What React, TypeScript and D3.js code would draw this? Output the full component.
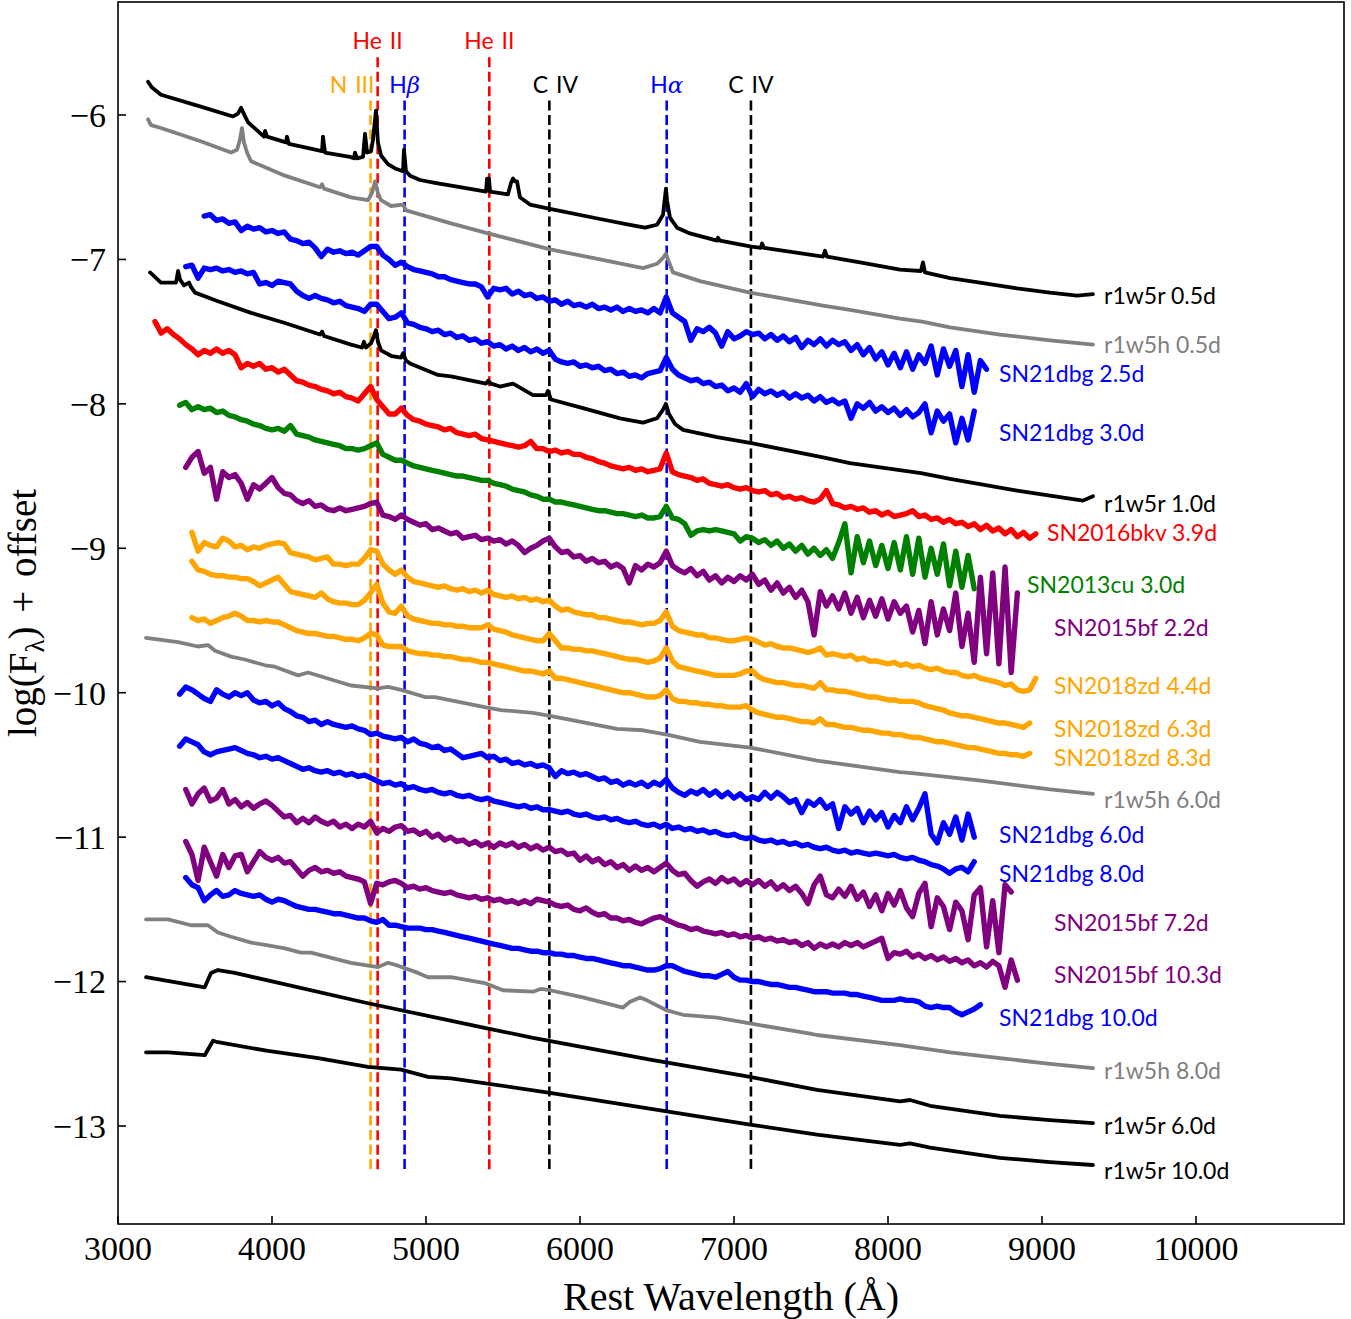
import * as d3 from 'd3'

const W = 1351
const H = 1319
const STEP = 40 // observed spectra are listed every 40 Å from their start wavelength

// ---- observed spectra (log flux + offset) ----
const sn21dbg25Start = 3560
const sn21dbg25 = [
  -6.70, -6.69, -6.73, -6.72, -6.75, -6.74, -6.80, -6.77, -6.79, -6.78,
  -6.81, -6.80, -6.82, -6.81, -6.86, -6.87, -6.89, -6.88, -6.92, -6.98,
  -6.93, -6.95, -6.94, -6.96, -6.95, -6.97, -6.94, -6.91, -6.91, -6.97,
  -7.00, -7.04, -7.02, -7.05, -7.07, -7.08, -7.09, -7.10, -7.12, -7.12,
  -7.14, -7.15, -7.16, -7.17, -7.17, -7.19, -7.26, -7.20, -7.21, -7.20,
  -7.24, -7.22, -7.25, -7.24, -7.27, -7.26, -7.29, -7.28, -7.31, -7.29,
  -7.32, -7.31, -7.33, -7.31, -7.34, -7.33, -7.35, -7.33, -7.36, -7.34,
  -7.36, -7.35, -7.37, -7.34, -7.37, -7.26, -7.37, -7.40, -7.43, -7.56,
  -7.48, -7.50, -7.47, -7.51, -7.60, -7.50, -7.55, -7.53, -7.50, -7.52,
  -7.51, -7.55, -7.52, -7.56, -7.53, -7.57, -7.54, -7.61, -7.56, -7.59,
  -7.55, -7.60, -7.56, -7.59, -7.57, -7.63, -7.59, -7.66, -7.61, -7.69,
  -7.64, -7.73, -7.65, -7.75, -7.64, -7.76, -7.66, -7.72, -7.60, -7.80,
  -7.62, -7.74, -7.63, -7.88, -7.66, -7.92, -7.70, -7.76,
]

const sn21dbg30Start = 3440
const sn21dbg30 = [
  -7.05, -7.04, -7.13, -7.06, -7.07, -7.06, -7.08, -7.07, -7.09, -7.08,
  -7.10, -7.09, -7.17, -7.16, -7.18, -7.15, -7.16, -7.17, -7.22, -7.25,
  -7.27, -7.25, -7.27, -7.28, -7.30, -7.29, -7.32, -7.33, -7.34, -7.36,
  -7.31, -7.31, -7.36, -7.41, -7.40, -7.37, -7.44, -7.45, -7.47, -7.48,
  -7.50, -7.49, -7.52, -7.51, -7.54, -7.53, -7.56, -7.55, -7.58, -7.57,
  -7.60, -7.59, -7.62, -7.60, -7.63, -7.61, -7.64, -7.62, -7.65, -7.63,
  -7.69, -7.71, -7.72, -7.71, -7.74, -7.73, -7.75, -7.74, -7.77, -7.76,
  -7.79, -7.78, -7.81, -7.80, -7.82, -7.79, -7.78, -7.77, -7.68, -7.76,
  -7.80, -7.82, -7.84, -7.83, -7.86, -7.85, -7.88, -7.87, -7.91, -7.89,
  -7.92, -7.86, -7.95, -7.90, -7.93, -7.91, -7.94, -7.92, -7.96, -7.93,
  -7.96, -7.94, -7.98, -7.95, -7.99, -7.97, -8.00, -7.98, -8.10, -8.00,
  -8.03, -7.99, -8.05, -8.02, -8.06, -8.03, -8.08, -8.04, -8.09, -8.06,
  -8.00, -8.20, -8.05, -8.12, -8.07, -8.27, -8.10, -8.25, -8.05,
]

const sn2016bkvStart = 3240
const sn2016bkv = [
  -7.43, -7.51, -7.48, -7.52, -7.55, -7.59, -7.62, -7.66, -7.63, -7.65,
  -7.62, -7.65, -7.63, -7.66, -7.75, -7.72, -7.74, -7.72, -7.76, -7.75,
  -7.78, -7.76, -7.80, -7.84, -7.85, -7.87, -7.88, -7.90, -7.91, -7.93,
  -7.92, -7.95, -7.96, -7.98, -7.93, -7.88, -7.97, -8.02, -8.07, -8.07,
  -8.03, -8.08, -8.11, -8.12, -8.14, -8.15, -8.16, -8.18, -8.17, -8.20,
  -8.21, -8.22, -8.21, -8.24, -8.25, -8.26, -8.27, -8.28, -8.29, -8.30,
  -8.29, -8.26, -8.31, -8.31, -8.33, -8.32, -8.34, -8.33, -8.35, -8.35,
  -8.37, -8.38, -8.40, -8.41, -8.43, -8.44, -8.45, -8.44, -8.46, -8.45,
  -8.47, -8.46, -8.45, -8.34, -8.47, -8.49, -8.50, -8.51, -8.53, -8.52,
  -8.55, -8.56, -8.57, -8.56, -8.58, -8.59, -8.58, -8.60, -8.61, -8.60,
  -8.63, -8.62, -8.65, -8.64, -8.66, -8.65, -8.67, -8.68, -8.66, -8.60,
  -8.69, -8.70, -8.72, -8.71, -8.73, -8.72, -8.75, -8.74, -8.77, -8.75,
  -8.78, -8.77, -8.76, -8.74, -8.78, -8.77, -8.80, -8.79, -8.82, -8.80,
  -8.83, -8.82, -8.85, -8.83, -8.87, -8.84, -8.88, -8.86, -8.90, -8.87,
  -8.92, -8.89, -8.93, -8.90,
]

const sn2013cuStart = 3400
const sn2013cu = [
  -8.01, -7.99, -8.04, -8.02, -8.04, -8.03, -8.06, -8.05, -8.08, -8.09,
  -8.11, -8.12, -8.14, -8.15, -8.17, -8.18, -8.17, -8.19, -8.15, -8.21,
  -8.22, -8.23, -8.25, -8.26, -8.27, -8.28, -8.29, -8.31, -8.31, -8.32,
  -8.31, -8.29, -8.27, -8.35, -8.37, -8.39, -8.39, -8.41, -8.43, -8.44,
  -8.45, -8.46, -8.47, -8.48, -8.49, -8.50, -8.50, -8.51, -8.52, -8.53,
  -8.53, -8.55, -8.56, -8.57, -8.59, -8.60, -8.61, -8.63, -8.64, -8.66,
  -8.66, -8.68, -8.68, -8.69, -8.70, -8.71, -8.72, -8.73, -8.74, -8.74,
  -8.75, -8.76, -8.76, -8.77, -8.78, -8.77, -8.79, -8.79, -8.78, -8.71,
  -8.79, -8.80, -8.83, -8.91, -8.88, -8.87, -8.88, -8.87, -8.88, -8.89,
  -8.90, -8.95, -8.92, -8.93, -8.96, -8.94, -8.98, -8.95, -9.00, -8.97,
  -9.02, -8.98, -9.04, -9.00, -9.05, -9.01, -9.07, -8.96, -8.83, -9.17,
  -8.92, -9.10, -8.95, -9.12, -8.98, -9.14, -8.96, -9.15, -8.92, -9.18,
  -8.93, -9.20, -9.00, -9.18, -8.97, -9.26, -9.02, -9.27, -9.05, -9.28,
]

const sn2015bf22Start = 3440
const sn2015bf22 = [
  -8.44, -8.37, -8.33, -8.48, -8.44, -8.66, -8.47, -8.51, -8.49, -8.55,
  -8.66, -8.56, -8.59, -8.55, -8.51, -8.58, -8.62, -8.63, -8.67, -8.69,
  -8.67, -8.71, -8.70, -8.73, -8.74, -8.72, -8.74, -8.73, -8.72, -8.71,
  -8.69, -8.68, -8.77, -8.78, -8.80, -8.77, -8.80, -8.82, -8.84, -8.83,
  -8.87, -8.86, -8.88, -8.90, -8.89, -8.93, -8.92, -8.91, -8.94, -8.93,
  -8.95, -8.94, -8.97, -8.95, -8.98, -9.03, -9.00, -8.98, -8.95, -8.93,
  -8.99, -9.03, -9.02, -9.06, -9.05, -9.09, -9.07, -9.10, -9.09, -9.13,
  -9.11, -9.14, -9.24, -9.12, -9.15, -9.11, -9.13, -9.10, -9.02, -9.12,
  -9.15, -9.17, -9.14, -9.19, -9.16, -9.22, -9.19, -9.24, -9.20, -9.23,
  -9.19, -9.22, -9.18, -9.25, -9.22, -9.29, -9.24, -9.31, -9.27, -9.34,
  -9.29, -9.37, -9.60, -9.30, -9.40, -9.33, -9.42, -9.31, -9.45, -9.34,
  -9.48, -9.36, -9.47, -9.35, -9.49, -9.37, -9.45, -9.40, -9.58, -9.43,
  -9.66, -9.37, -9.60, -9.42, -9.57, -9.31, -9.68, -9.45, -9.79, -9.20,
  -9.73, -9.17, -9.80, -9.13, -9.86, -9.31,
]

const sn2018zd44Start = 3480
const sn2018zd44 = [
  -8.89, -9.02, -8.96, -8.98, -8.99, -8.93, -8.95, -8.99, -8.98, -9.01,
  -8.99, -9.00, -8.98, -8.97, -8.96, -8.97, -9.03, -9.04, -9.05, -9.06,
  -9.08, -9.07, -9.06, -9.11, -9.11, -9.12, -9.11, -9.11, -9.07, -9.01,
  -9.02, -9.11, -9.15, -9.18, -9.15, -9.20, -9.23, -9.24, -9.25, -9.26,
  -9.27, -9.26, -9.28, -9.29, -9.28, -9.30, -9.29, -9.31, -9.29, -9.32,
  -9.33, -9.34, -9.33, -9.35, -9.34, -9.36, -9.35, -9.37, -9.36, -9.40,
  -9.43, -9.42, -9.44, -9.45, -9.46, -9.46, -9.48, -9.48, -9.49, -9.50,
  -9.51, -9.51, -9.52, -9.53, -9.52, -9.52, -9.50, -9.44, -9.54, -9.57,
  -9.58, -9.59, -9.60, -9.60, -9.62, -9.62, -9.63, -9.64, -9.64, -9.63,
  -9.62, -9.63, -9.65, -9.67, -9.66, -9.68, -9.69, -9.69, -9.70, -9.71,
  -9.72, -9.71, -9.69, -9.74, -9.73, -9.74, -9.75, -9.74, -9.77, -9.76,
  -9.78, -9.78, -9.79, -9.80, -9.79, -9.81, -9.80, -9.82, -9.81, -9.83,
  -9.84, -9.83, -9.85, -9.86, -9.86, -9.88, -9.89, -9.88, -9.90, -9.91,
  -9.92, -9.93, -9.95, -9.94, -9.98, -9.99, -9.98, -9.90,
]

const sn2018zd63Start = 3480
const sn2018zd63 = [
  -9.09, -9.15, -9.16, -9.18, -9.19, -9.19, -9.20, -9.20, -9.21, -9.21,
  -9.23, -9.26, -9.24, -9.22, -9.20, -9.25, -9.30, -9.31, -9.32, -9.33,
  -9.34, -9.31, -9.35, -9.37, -9.38, -9.38, -9.39, -9.39, -9.36, -9.31,
  -9.25, -9.38, -9.44, -9.45, -9.40, -9.47, -9.49, -9.50, -9.51, -9.52,
  -9.52, -9.53, -9.53, -9.54, -9.54, -9.55, -9.55, -9.55, -9.53, -9.56,
  -9.57, -9.58, -9.60, -9.61, -9.62, -9.63, -9.64, -9.64, -9.59, -9.64,
  -9.69, -9.69, -9.70, -9.70, -9.71, -9.71, -9.72, -9.73, -9.74, -9.75,
  -9.76, -9.77, -9.77, -9.78, -9.79, -9.78, -9.76, -9.69, -9.78, -9.82,
  -9.83, -9.84, -9.85, -9.86, -9.87, -9.88, -9.88, -9.88, -9.88, -9.87,
  -9.85, -9.85, -9.89, -9.91, -9.92, -9.93, -9.93, -9.94, -9.95, -9.95,
  -9.96, -9.97, -9.93, -9.98, -9.98, -9.99, -9.99, -10.00, -10.01, -10.02,
  -10.03, -10.03, -10.04, -10.05, -10.05, -10.06, -10.06, -10.06, -10.07, -10.09,
  -10.10, -10.11, -10.12, -10.14, -10.15, -10.16, -10.16, -10.17, -10.18, -10.19,
  -10.20, -10.21, -10.21, -10.22, -10.23, -10.24, -10.21,
]

const sn2018zd83Start = 3480
const sn2018zd83 = [
  -9.48, -9.50, -9.49, -9.52, -9.50, -9.48, -9.47, -9.45, -9.47, -9.50,
  -9.50, -9.51, -9.50, -9.51, -9.51, -9.53, -9.55, -9.57, -9.58, -9.59,
  -9.59, -9.60, -9.61, -9.61, -9.62, -9.63, -9.63, -9.64, -9.62, -9.59,
  -9.60, -9.67, -9.68, -9.68, -9.68, -9.71, -9.72, -9.73, -9.73, -9.74,
  -9.74, -9.75, -9.75, -9.76, -9.77, -9.77, -9.78, -9.79, -9.79, -9.80,
  -9.81, -9.82, -9.83, -9.84, -9.85, -9.85, -9.86, -9.87, -9.85, -9.90,
  -9.90, -9.91, -9.92, -9.93, -9.94, -9.95, -9.96, -9.97, -9.98, -9.99,
  -10.00, -10.00, -10.01, -10.02, -10.03, -10.03, -10.02, -9.98, -10.04, -10.06,
  -10.06, -10.07, -10.07, -10.08, -10.08, -10.09, -10.09, -10.10, -10.10, -10.10,
  -10.09, -10.12, -10.14, -10.15, -10.16, -10.17, -10.17, -10.18, -10.19, -10.20,
  -10.20, -10.21, -10.18, -10.22, -10.22, -10.23, -10.24, -10.24, -10.25, -10.26,
  -10.26, -10.27, -10.28, -10.28, -10.29, -10.29, -10.30, -10.31, -10.31, -10.32,
  -10.33, -10.34, -10.34, -10.35, -10.36, -10.37, -10.38, -10.38, -10.39, -10.40,
  -10.41, -10.42, -10.42, -10.43, -10.43, -10.44, -10.42,
]

const sn21dbg60Start = 3400
const sn21dbg60 = [
  -10.01, -9.96, -9.98, -10.01, -10.04, -10.06, -9.98, -10.01, -10.03, -10.00,
  -10.02, -10.00, -10.05, -10.07, -10.06, -10.09, -10.07, -10.11, -10.13, -10.16,
  -10.17, -10.20, -10.19, -10.22, -10.20, -10.22, -10.23, -10.24, -10.23, -10.25,
  -10.26, -10.29, -10.28, -10.30, -10.31, -10.32, -10.31, -10.34, -10.32, -10.35,
  -10.36, -10.38, -10.37, -10.40, -10.39, -10.42, -10.45, -10.44, -10.43, -10.42,
  -10.45, -10.44, -10.47, -10.46, -10.49, -10.48, -10.50, -10.49, -10.51, -10.50,
  -10.52, -10.58, -10.54, -10.56, -10.55, -10.57, -10.56, -10.58, -10.60, -10.59,
  -10.62, -10.61, -10.64, -10.62, -10.64, -10.62, -10.65, -10.62, -10.64, -10.60,
  -10.66, -10.69, -10.71, -10.68, -10.70, -10.67, -10.71, -10.68, -10.72, -10.69,
  -10.73, -10.70, -10.74, -10.72, -10.74, -10.69, -10.73, -10.69, -10.72, -10.76,
  -10.74, -10.83, -10.75, -10.78, -10.74, -10.80, -10.77, -10.94, -10.79, -10.84,
  -10.80, -10.90, -10.82, -10.88, -10.83, -10.93, -10.85, -10.90, -10.79, -10.88,
  -10.80, -10.70, -10.98, -11.04, -10.90, -10.98, -10.86, -11.02, -10.84, -11.00,
]

const sn21dbg80Start = 3400
const sn21dbg80 = [
  -10.37, -10.32, -10.34, -10.36, -10.41, -10.43, -10.41, -10.40, -10.39, -10.38,
  -10.40, -10.42, -10.43, -10.45, -10.44, -10.46, -10.45, -10.47, -10.49, -10.51,
  -10.53, -10.52, -10.54, -10.55, -10.54, -10.56, -10.55, -10.57, -10.56, -10.58,
  -10.57, -10.59, -10.61, -10.63, -10.62, -10.64, -10.63, -10.66, -10.65, -10.67,
  -10.68, -10.67, -10.69, -10.70, -10.69, -10.71, -10.72, -10.71, -10.73, -10.74,
  -10.73, -10.75, -10.76, -10.77, -10.78, -10.79, -10.78, -10.80, -10.79, -10.81,
  -10.81, -10.82, -10.83, -10.82, -10.84, -10.85, -10.84, -10.86, -10.87, -10.86,
  -10.88, -10.87, -10.89, -10.90, -10.89, -10.91, -10.92, -10.91, -10.93, -10.91,
  -10.94, -10.93, -10.95, -10.94, -10.96, -10.95, -10.97, -10.96, -10.98, -10.99,
  -10.98, -11.00, -11.01, -11.00, -11.02, -11.03, -11.02, -11.04, -11.03, -11.05,
  -11.04, -11.06, -11.05, -11.07, -11.08, -11.07, -11.09, -11.10, -11.09, -11.11,
  -11.10, -11.11, -11.12, -11.11, -11.12, -11.13, -11.12, -11.14, -11.15, -11.14,
  -11.16, -11.17, -11.19, -11.20, -11.22, -11.25, -11.22, -11.21, -11.24, -11.17,
]

const sn2015bf72Start = 3440
const sn2015bf72 = [
  -10.67, -10.77, -10.70, -10.66, -10.75, -10.73, -10.67, -10.77, -10.74, -10.79,
  -10.76, -10.80, -10.77, -10.75, -10.78, -10.82, -10.86, -10.85, -10.90, -10.87,
  -10.90, -10.86, -10.89, -10.91, -10.89, -10.93, -10.91, -10.94, -10.91, -10.93,
  -10.89, -10.97, -10.94, -10.96, -10.93, -10.92, -10.96, -10.95, -10.98, -10.96,
  -11.00, -10.98, -11.02, -11.00, -11.03, -11.02, -11.05, -11.03, -11.06, -11.04,
  -11.07, -11.04, -11.06, -11.04, -11.07, -11.05, -11.08, -11.06, -11.09, -11.07,
  -11.10, -11.09, -11.12, -11.11, -11.16, -11.13, -11.17, -11.15, -11.19, -11.17,
  -11.21, -11.19, -11.23, -11.20, -11.23, -11.21, -11.24, -11.21, -11.18, -11.23,
  -11.26, -11.25, -11.30, -11.34, -11.31, -11.29, -11.32, -11.28, -11.31, -11.29,
  -11.33, -11.30, -11.33, -11.30, -11.34, -11.31, -11.36, -11.33, -11.37, -11.34,
  -11.39, -11.46, -11.33, -11.27, -11.40, -11.42, -11.36, -11.41, -11.34, -11.43,
  -11.38, -11.48, -11.40, -11.51, -11.39, -11.47, -11.37, -11.49, -11.55, -11.39,
  -11.32, -11.62, -11.42, -11.48, -11.64, -11.45, -11.51, -11.71, -11.40, -11.35,
  -11.76, -11.44, -11.80, -11.33, -11.38,
]

const sn2015bf103Start = 3440
const sn2015bf103 = [
  -11.03, -11.12, -11.30, -11.07, -11.17, -11.27, -11.12, -11.21, -11.13, -11.12,
  -11.24, -11.17, -11.10, -11.14, -11.16, -11.14, -11.18, -11.17, -11.22, -11.27,
  -11.23, -11.21, -11.24, -11.23, -11.25, -11.24, -11.27, -11.28, -11.29, -11.31,
  -11.46, -11.32, -11.33, -11.31, -11.30, -11.32, -11.35, -11.34, -11.36, -11.35,
  -11.37, -11.38, -11.39, -11.38, -11.40, -11.41, -11.42, -11.41, -11.43, -11.42,
  -11.44, -11.43, -11.45, -11.44, -11.46, -11.44, -11.46, -11.43, -11.44, -11.45,
  -11.47, -11.48, -11.47, -11.50, -11.51, -11.49, -11.52, -11.54, -11.53, -11.56,
  -11.56, -11.58, -11.57, -11.59, -11.60, -11.58, -11.56, -11.55, -11.57, -11.59,
  -11.61, -11.62, -11.64, -11.63, -11.65, -11.66, -11.67, -11.66, -11.68, -11.67,
  -11.69, -11.68, -11.70, -11.69, -11.71, -11.70, -11.72, -11.71, -11.73, -11.72,
  -11.75, -11.73, -11.77, -11.74, -11.76, -11.74, -11.76, -11.73, -11.75, -11.73,
  -11.76, -11.74, -11.72, -11.70, -11.84, -11.80, -11.81, -11.79, -11.83, -11.81,
  -11.84, -11.82, -11.85, -11.83, -11.86, -11.84, -11.87, -11.85, -11.89, -11.87,
  -11.90, -11.86, -11.89, -12.04, -11.85, -11.99,
]

const sn21dbg100Start = 3440
const sn21dbg100 = [
  -11.28, -11.33, -11.35, -11.44, -11.40, -11.37, -11.41, -11.40, -11.37, -11.39,
  -11.40, -11.41, -11.40, -11.43, -11.45, -11.43, -11.44, -11.46, -11.48, -11.49,
  -11.50, -11.50, -11.51, -11.52, -11.53, -11.53, -11.54, -11.55, -11.56, -11.56,
  -11.58, -11.59, -11.57, -11.61, -11.61, -11.62, -11.63, -11.63, -11.63, -11.64,
  -11.64, -11.65, -11.66, -11.67, -11.68, -11.69, -11.70, -11.71, -11.72, -11.73,
  -11.74, -11.75, -11.76, -11.77, -11.77, -11.78, -11.79, -11.79, -11.80, -11.80,
  -11.81, -11.81, -11.82, -11.82, -11.83, -11.84, -11.84, -11.85, -11.86, -11.87,
  -11.88, -11.89, -11.89, -11.90, -11.91, -11.92, -11.92, -11.91, -11.89, -11.89,
  -11.91, -11.93, -11.94, -11.95, -11.96, -11.96, -11.97, -11.95, -11.93, -11.97,
  -11.99, -11.99, -12.00, -12.00, -12.01, -12.02, -12.02, -12.03, -12.04, -12.04,
  -12.05, -12.06, -12.07, -12.07, -12.07, -12.08, -12.08, -12.08, -12.09, -12.09,
  -12.10, -12.11, -12.12, -12.13, -12.13, -12.13, -12.12, -12.13, -12.13, -12.14,
  -12.17, -12.18, -12.17, -12.18, -12.18, -12.21, -12.23, -12.21, -12.19, -12.16,
]

// ---- model spectra: [wavelength Å, log flux + offset] ----
const r1w5r05: [number, number][] = [
  [3195, -5.77], [3221, -5.81], [3279, -5.86], [3532, -5.94], [3747, -6.01], [3779, -5.99],
  [3799, -5.95], [3812, -5.98], [3844, -6.05], [3896, -6.10], [3948, -6.15], [3955, -6.11],
  [3968, -6.15], [4091, -6.19], [4097, -6.15], [4110, -6.20], [4325, -6.25], [4331, -6.15],
  [4344, -6.26], [4506, -6.29], [4532, -6.30], [4539, -6.26], [4552, -6.30], [4591, -6.29],
  [4604, -6.13], [4617, -6.26], [4643, -6.25], [4656, -6.17], [4675, -5.97], [4688, -6.19],
  [4708, -6.28], [4753, -6.34], [4799, -6.37], [4851, -6.39], [4857, -6.24], [4870, -6.39],
  [4896, -6.42], [4961, -6.45], [5058, -6.47], [5221, -6.50], [5390, -6.53], [5396, -6.44],
  [5409, -6.44], [5416, -6.53], [5532, -6.55], [5552, -6.47], [5565, -6.44], [5578, -6.46],
  [5591, -6.46], [5610, -6.57], [5675, -6.62], [5805, -6.65], [6130, -6.72], [6325, -6.76],
  [6422, -6.78], [6500, -6.76], [6539, -6.69], [6558, -6.51], [6565, -6.59], [6584, -6.71],
  [6630, -6.78], [6714, -6.82], [6890, -6.87], [6896, -6.85], [6909, -6.87], [7104, -6.91],
  [7175, -6.92], [7182, -6.89], [7195, -6.92], [7578, -6.98], [7591, -6.94], [7604, -6.98],
  [7818, -7.02], [8078, -7.07], [8214, -7.08], [8227, -7.02], [8240, -7.09], [8403, -7.13],
  [8597, -7.16], [8838, -7.20], [9052, -7.23], [9227, -7.25], [9331, -7.24],
]

const r1w5h05: [number, number][] = [
  [3195, -6.03], [3214, -6.07], [3279, -6.09], [3532, -6.18], [3734, -6.26], [3773, -6.24],
  [3792, -6.17], [3805, -6.09], [3818, -6.19], [3838, -6.26], [3864, -6.32], [4084, -6.42],
  [4312, -6.50], [4325, -6.48], [4338, -6.51], [4513, -6.57], [4623, -6.59], [4649, -6.54],
  [4669, -6.46], [4688, -6.54], [4708, -6.59], [4773, -6.63], [4851, -6.62], [4870, -6.66],
  [5162, -6.75], [5403, -6.82], [5805, -6.93], [6130, -7.00], [6409, -7.06], [6500, -7.03],
  [6539, -6.99], [6558, -6.96], [6578, -7.02], [6604, -7.09], [6779, -7.15], [7104, -7.23],
  [7578, -7.32], [7753, -7.35], [8078, -7.41], [8221, -7.43], [8403, -7.47], [8727, -7.52],
  [9052, -7.56], [9331, -7.59],
]

const r1w5r10: [number, number][] = [
  [3208, -7.09], [3279, -7.16], [3377, -7.16], [3390, -7.08], [3403, -7.14], [3429, -7.18],
  [3461, -7.16], [3474, -7.19], [3500, -7.23], [3649, -7.29], [3864, -7.37], [4084, -7.44],
  [4312, -7.52], [4325, -7.50], [4338, -7.53], [4513, -7.59], [4584, -7.61], [4597, -7.57],
  [4610, -7.61], [4643, -7.58], [4662, -7.53], [4675, -7.49], [4688, -7.57], [4708, -7.63],
  [4779, -7.67], [4838, -7.68], [4851, -7.65], [4870, -7.70], [4896, -7.72], [5078, -7.80],
  [5162, -7.81], [5390, -7.86], [5403, -7.84], [5422, -7.86], [5481, -7.88], [5565, -7.86],
  [5695, -7.94], [5779, -7.94], [5792, -7.91], [5812, -7.97], [6019, -8.03], [6260, -8.10],
  [6409, -8.13], [6500, -8.10], [6539, -8.04], [6558, -8.00], [6578, -8.07], [6617, -8.14],
  [6669, -8.18], [6890, -8.23], [7104, -8.27], [7578, -8.37], [7753, -8.41], [8214, -8.48],
  [8403, -8.52], [8838, -8.60], [9266, -8.67], [9331, -8.64],
]

const r1w5h60: [number, number][] = [
  [3182, -9.62], [3390, -9.65], [3519, -9.68], [3584, -9.67], [3630, -9.71], [3734, -9.75],
  [3823, -9.77], [3955, -9.81], [4018, -9.82], [4169, -9.88], [4234, -9.86], [4513, -9.95],
  [4688, -9.97], [4753, -9.96], [4838, -9.98], [4994, -10.03], [5058, -10.03], [5381, -10.10],
  [5487, -10.12], [5695, -10.14], [5805, -10.16], [6240, -10.25], [6409, -10.26], [6565, -10.29],
  [6779, -10.34], [7104, -10.38], [7539, -10.47], [8078, -10.55], [8188, -10.56], [8617, -10.61],
  [9052, -10.67], [9331, -10.70],
]

const r1w5h80: [number, number][] = [
  [3182, -11.57], [3325, -11.57], [3474, -11.61], [3584, -11.61], [3649, -11.66], [3734, -11.69],
  [3864, -11.73], [3974, -11.75], [4084, -11.77], [4188, -11.80], [4253, -11.80], [4513, -11.87],
  [4688, -11.90], [4753, -11.87], [4818, -11.89], [4948, -11.94], [5013, -11.97], [5162, -11.97],
  [5273, -11.99], [5381, -12.01], [5500, -12.06], [5695, -12.07], [5747, -12.05], [5805, -12.06],
  [6019, -12.11], [6279, -12.18], [6325, -12.14], [6390, -12.11], [6435, -12.13], [6565, -12.20],
  [6669, -12.23], [6890, -12.25], [7104, -12.29], [7494, -12.36], [7539, -12.37], [8078, -12.44],
  [8403, -12.49], [8727, -12.53], [9052, -12.57], [9331, -12.60],
]

const r1w5r60: [number, number][] = [
  [3182, -11.97], [3563, -12.04], [3604, -11.94], [3649, -11.92], [3758, -11.94], [4623, -12.15],
  [5381, -12.32], [5695, -12.39], [6455, -12.54], [7104, -12.66], [7539, -12.75], [8078, -12.83],
  [8143, -12.82], [8273, -12.86], [8727, -12.93], [9052, -12.96], [9331, -12.98],
]

const r1w5r100: [number, number][] = [
  [3182, -12.49], [3325, -12.49], [3563, -12.51], [3617, -12.41], [3649, -12.42], [3974, -12.48],
  [4299, -12.53], [4623, -12.59], [4838, -12.61], [5013, -12.66], [5162, -12.67], [5805, -12.77],
  [6390, -12.87], [7104, -12.99], [7539, -13.06], [8078, -13.13], [8143, -13.12], [8273, -13.15],
  [8727, -13.22], [9052, -13.25], [9331, -13.27],
]

// ---- spectrum labels (text, colour, anchor wavelength, anchor flux) ----
const specLabels = [
  'r1w5r 0.5d', 'r1w5h 0.5d', 'SN21dbg 2.5d', 'SN21dbg 3.0d', 'r1w5r 1.0d',
  'SN2016bkv 3.9d', 'SN2013cu 3.0d', 'SN2015bf 2.2d', 'SN2018zd 4.4d', 'SN2018zd 6.3d',
  'SN2018zd 8.3d', 'r1w5h 6.0d', 'SN21dbg 6.0d', 'SN21dbg 8.0d', 'SN2015bf 7.2d',
  'SN2015bf 10.3d', 'SN21dbg 10.0d', 'r1w5h 8.0d', 'r1w5r 6.0d', 'r1w5r 10.0d',
]
const specColors = [
  'black', 'gray', 'blue', 'blue', 'black',
  'red', 'green', 'purple', 'orange', 'orange',
  'orange', 'gray', 'blue', 'blue', 'purple',
  'purple', 'blue', 'gray', 'black', 'black',
]
const labelWave = [
  9403, 9403, 8721, 8721, 9403,
  9032, 8903, 9078, 9078, 9078,
  9078, 9403, 8721, 8721, 9078,
  9078, 8721, 9403, 9403, 9403,
]
const labelFlux = [
  -7.25, -7.59, -7.79, -8.20, -8.69,
  -8.89, -9.25, -9.55, -9.95, -10.25,
  -10.45, -10.74, -10.98, -11.25, -11.59,
  -11.95, -12.25, -12.62, -13.00, -13.31,
]

// ---- identified lines ----
const lineNames = ['N III', 'He II', 'Hβ', 'He II', 'C IV', 'Hα', 'C IV']
const lineWaves = [4640, 4686, 4861, 5411, 5801, 6563, 7110]
const lineColors = ['orange', 'red', 'blue', 'red', 'black', 'blue', 'black']
const lineTop = [-5.9, -5.6, -5.9, -5.6, -5.9, -5.9, -5.9]
const lineBottom = -13.31
const lineTextWave = [4520, 4686, 4861, 5411, 5840, 6563, 7110]
const lineTextFlux = [-5.85, -5.54, -5.85, -5.54, -5.85, -5.85, -5.85]

const xTicks = [3000, 4000, 5000, 6000, 7000, 8000, 9000, 10000]
const yTicks = [-6, -7, -8, -9, -10, -11, -12, -13]

type Pt = [number, number]
const sampled = (start: number, flux: number[]): Pt[] => flux.map((f, i) => [start + i * STEP, f])

const spectra: { pts: Pt[]; model: boolean }[] = [
  { pts: r1w5r05, model: true },
  { pts: r1w5h05, model: true },
  { pts: sampled(sn21dbg25Start, sn21dbg25), model: false },
  { pts: sampled(sn21dbg30Start, sn21dbg30), model: false },
  { pts: r1w5r10, model: true },
  { pts: sampled(sn2016bkvStart, sn2016bkv), model: false },
  { pts: sampled(sn2013cuStart, sn2013cu), model: false },
  { pts: sampled(sn2015bf22Start, sn2015bf22), model: false },
  { pts: sampled(sn2018zd44Start, sn2018zd44), model: false },
  { pts: sampled(sn2018zd63Start, sn2018zd63), model: false },
  { pts: sampled(sn2018zd83Start, sn2018zd83), model: false },
  { pts: r1w5h60, model: true },
  { pts: sampled(sn21dbg60Start, sn21dbg60), model: false },
  { pts: sampled(sn21dbg80Start, sn21dbg80), model: false },
  { pts: sampled(sn2015bf72Start, sn2015bf72), model: false },
  { pts: sampled(sn2015bf103Start, sn2015bf103), model: false },
  { pts: sampled(sn21dbg100Start, sn21dbg100), model: false },
  { pts: r1w5h80, model: true },
  { pts: r1w5r60, model: true },
  { pts: r1w5r100, model: true },
]

const plot = { left: 118, right: 1344, top: 2, bottom: 1224 }
const x = d3.scaleLinear().domain([3000, 10961]).range([plot.left, plot.right])
const y = d3.scaleLinear().domain([-6, -13]).range([115, 1126])
const line = d3.line<Pt>().x(d => x(d[0])).y(d => y(d[1]))

const sans = "Lato, 'DejaVu Sans', sans-serif"
const serif = "'Liberation Serif', 'DejaVu Serif', serif"

function LineName({ name }: { name: string }) {
  if (name === 'Hβ' || name === 'Hα') {
    return (
      <>
        H<tspan fontStyle="italic" fontFamily="'DejaVu Serif', serif">{name.slice(1)}</tspan>
      </>
    )
  }
  return <>{name}</>
}

export default function App() {
  return (
    <>
      <style>{'body{margin:0}'}</style>
      <svg width={W} height={H} style={{ display: 'block', background: '#fff' }}>
        <defs>
          <clipPath id="plot-area">
            <rect x={plot.left} y={plot.top} width={plot.right - plot.left} height={plot.bottom - plot.top} />
          </clipPath>
        </defs>

        <g clipPath="url(#plot-area)">
          {lineWaves.map((w, i) => (
            <line
              key={'vl' + i}
              x1={x(w)}
              x2={x(w)}
              y1={y(lineTop[i])}
              y2={y(lineBottom)}
              stroke={lineColors[i]}
              strokeWidth={2.6}
              strokeDasharray="10 4.5"
            />
          ))}

          {spectra.map((s, i) => (
            <path
              key={'sp' + i}
              d={line(s.pts) ?? ''}
              fill="none"
              stroke={specColors[i]}
              strokeWidth={s.model ? 3.8 : 5.4}
              strokeLinejoin="round"
              strokeLinecap="round"
            />
          ))}
        </g>

        {lineNames.map((n, i) => (
          <text
            key={'ln' + i}
            x={x(lineTextWave[i])}
            y={y(lineTextFlux[i])}
            textAnchor="middle"
            fontFamily={sans}
            fontSize={23}
            wordSpacing={2}
            fill={lineColors[i]}
          >
            <LineName name={n} />
          </text>
        ))}

        {specLabels.map((t, i) => (
          <text
            key={'lab' + i}
            x={x(labelWave[i])}
            y={y(labelFlux[i])}
            dy="0.36em"
            fontFamily={sans}
            fontSize={23}
            fill={specColors[i]}
          >
            {t}
          </text>
        ))}

        {/* axes frame */}
        <rect
          x={plot.left}
          y={plot.top}
          width={plot.right - plot.left}
          height={plot.bottom - plot.top}
          fill="none"
          stroke="#000"
          strokeWidth={1.6}
        />

        {xTicks.map(t => (
          <g key={'xt' + t}>
            <line x1={x(t)} x2={x(t)} y1={plot.bottom} y2={plot.bottom - 8} stroke="#000" strokeWidth={1.6} />
            <text x={x(t)} y={1260} textAnchor="middle" fontFamily={serif} fontSize={34}>
              {t}
            </text>
          </g>
        ))}

        {yTicks.map(t => (
          <g key={'yt' + t}>
            <line x1={plot.left} x2={plot.left + 8} y1={y(t)} y2={y(t)} stroke="#000" strokeWidth={1.6} />
            <text x={106} y={y(t)} dy="0.35em" textAnchor="end" fontFamily={serif} fontSize={34}>
              {'\u2212' + Math.abs(t)}
            </text>
          </g>
        ))}

        <text x={(plot.left + plot.right) / 2} y={1310} textAnchor="middle" fontFamily={serif} fontSize={40}>
          Rest Wavelength (Å)
        </text>

        <text
          transform={`translate(36, ${(plot.top + plot.bottom) / 2}) rotate(-90)`}
          textAnchor="middle"
          fontFamily={serif}
          fontSize={39}
          wordSpacing={4}
        >
          log(F<tspan dy={8} fontSize={27}>λ</tspan>
          <tspan dy={-8}>) + offset</tspan>
        </text>
      </svg>
    </>
  )
}
